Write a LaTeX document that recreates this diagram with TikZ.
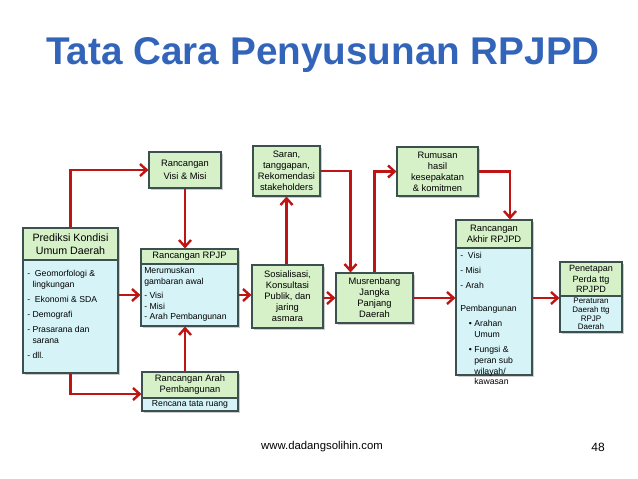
\documentclass[tikz,border=0pt]{standalone}
\usepackage{fontspec}
\setmainfont{Liberation Sans}
\usetikzlibrary{arrows.meta, calc, shadows}
\definecolor{headgreen}{RGB}{214,240,200}
\definecolor{bodycyan}{RGB}{214,244,248}
\definecolor{boxline}{RGB}{60,80,80}
\definecolor{flowred}{RGB}{190,20,20}
\definecolor{titleblue}{RGB}{50,100,185}

\tikzset{
  box/.style={draw=boxline, thick, minimum width=#1, inner sep=1pt, align=center,
    font=\fontsize{7}{8.2}\selectfont, drop shadow={shadow xshift=1.2pt, shadow yshift=-1.2pt, opacity=0.4}},
  head/.style={box=#1, fill=headgreen},
  body/.style={box=#1, fill=bodycyan},
  list/.style={anchor=north west, align=left, inner sep=0pt, font=\fontsize{6.5}{8.2}\selectfont},
  flow/.style={draw=flowred, line width=2.2pt, -{Straight Barb[length=5pt, width=9pt, line width=1.8pt]}},
}

\begin{document}
\begin{tikzpicture}[x=0.75pt, y=-0.75pt]
  \useasboundingbox (0,0) rectangle (638,478);

  % Title
  \node (title) [titleblue, font=\fontsize{29}{32}\selectfont\bfseries,
    preaction={transform canvas={shift={(2.2pt,-2.2pt)}}, text=gray!70}] at (323,55) {Tata Cara Penyusunan RPJPD};

  % Boxes
  \node (predh) [head=71.25pt, minimum height=24pt, font=\fontsize{8}{9.5}\selectfont] at (70.5,244) {Prediksi Kondisi\\Umum Daerah};
  \node (predb) [body=71.25pt, minimum height=84.75pt] at (70.5,316.5) {};
  \node (visi) [head=54pt, minimum height=27pt] at (185,170) {Rancangan\\[2pt]Visi \& Misi};
  \node (saran) [head=50.25pt, minimum height=37.5pt] at (286.5,171) {Saran,\\tanggapan,\\Rekomendasi\\stakeholders};
  \node (rumus) [head=60.75pt, minimum height=36.75pt] at (437.5,171.5) {Rumusan\\hasil\\kesepakatan\\\& komitmen};
  \node (rpjph) [head=72.75pt, minimum height=11.25pt] at (189.5,256.5) {Rancangan RPJP};
  \node (rpjpb) [body=72.75pt, minimum height=46.5pt] at (189.5,295) {};
  \node (sos) [head=53.25pt, minimum height=47.25pt] at (287.5,296.5) {Sosialisasi,\\Konsultasi\\Publik, dan\\jaring\\asmara};
  \node (mus) [head=57.75pt, minimum height=37.5pt] at (374.5,298) {Musrenbang\\Jangka\\Panjang\\Daerah};
  \node (akhh) [head=57pt, minimum height=21pt] at (494,234) {Rancangan\\Akhir RPJPD};
  \node (akhb) [body=57pt, minimum height=95.25pt] at (494,311.5) {};
  \node (peneh) [head=46.5pt, minimum height=25.5pt, font=\fontsize{6.8}{7.6}\selectfont] at (591,279) {Penetapan\\Perda ttg\\RPJPD};
  \node (peneb) [body=46.5pt, minimum height=27pt, font=\fontsize{6}{6.6}\selectfont] at (591,314) {Peraturan\\Daerah ttg\\RPJP\\Daerah};
  \node (arahh) [head=72pt, minimum height=19.5pt] at (190,385) {Rancangan Arah\\Pembangunan};
  \node (arahb) [body=72pt, minimum height=9.75pt, font=\fontsize{6.5}{7.6}\selectfont] at (190,404.5) {Rencana tata ruang};

  % Body texts
  \node (predl) [list] at (27,270) {-~ Geomorfologi \&\\\phantom{-~}lingkungan\\[3pt]-~ Ekonomi \& SDA\\[3pt]-~Demografi\\[3pt]-~Prasarana dan\\\phantom{-~}sarana\\[3pt]-~dll.};
  \node (rpjpl) [list] at (144,267) {Merumuskan\\gambaran awal\\[2pt]- Visi\\- Misi\\- Arah Pembangunan};
  \node (akhl) [list] at (460,252) {-~ Visi\\[3pt]-~Misi\\[3pt]-~Arah\\[9pt]Pembangunan\\[3pt]\quad\textbullet~Arahan\\\quad\phantom{\textbullet~}Umum\\[3pt]\quad\textbullet~Fungsi \&\\\quad\phantom{\textbullet~}peran sub\\\quad\phantom{\textbullet~}wilayah/\\\quad\phantom{\textbullet~}kawasan};

  % Connectors
  \draw[flow] (predh.north) |- (visi.west);
  \draw[flow] (visi.south) -- (visi.south |- rpjph.north);
  \draw[flow] (predb.east |- rpjpb.center) -- (rpjpb.west);
  \draw[flow] (predb.south) |- (arahh.west |- 0,394);
  \draw[flow] (arahh.north -| visi.south) -- (rpjpb.south -| visi.south);
  \draw[flow] (rpjpb.east) -- (sos.west |- rpjpb.east);
  \draw[flow] (sos.north -| saran.south) -- (saran.south);
  \draw[flow] (saran.east) -| ([xshift=-18pt]mus.north);
  \draw[flow] (sos.east |- mus.center) -- (mus.west);
  \draw[flow] (mus.north) |- (rumus.west);
  \draw[flow] (rumus.east) -| ([xshift=12pt]akhh.north);
  \draw[flow] (mus.east) -- (akhb.west |- mus.east);
  \draw[flow] (akhb.east |- mus.east) -- (peneh.south west |- mus.east);

  % Footer
  \node (web) [font=\fontsize{8.5}{10}\selectfont] at (322,447) {www.dadangsolihin.com};
  \node (page) [font=\fontsize{9}{10}\selectfont] at (598,447) {48};
\end{tikzpicture}
\end{document}
